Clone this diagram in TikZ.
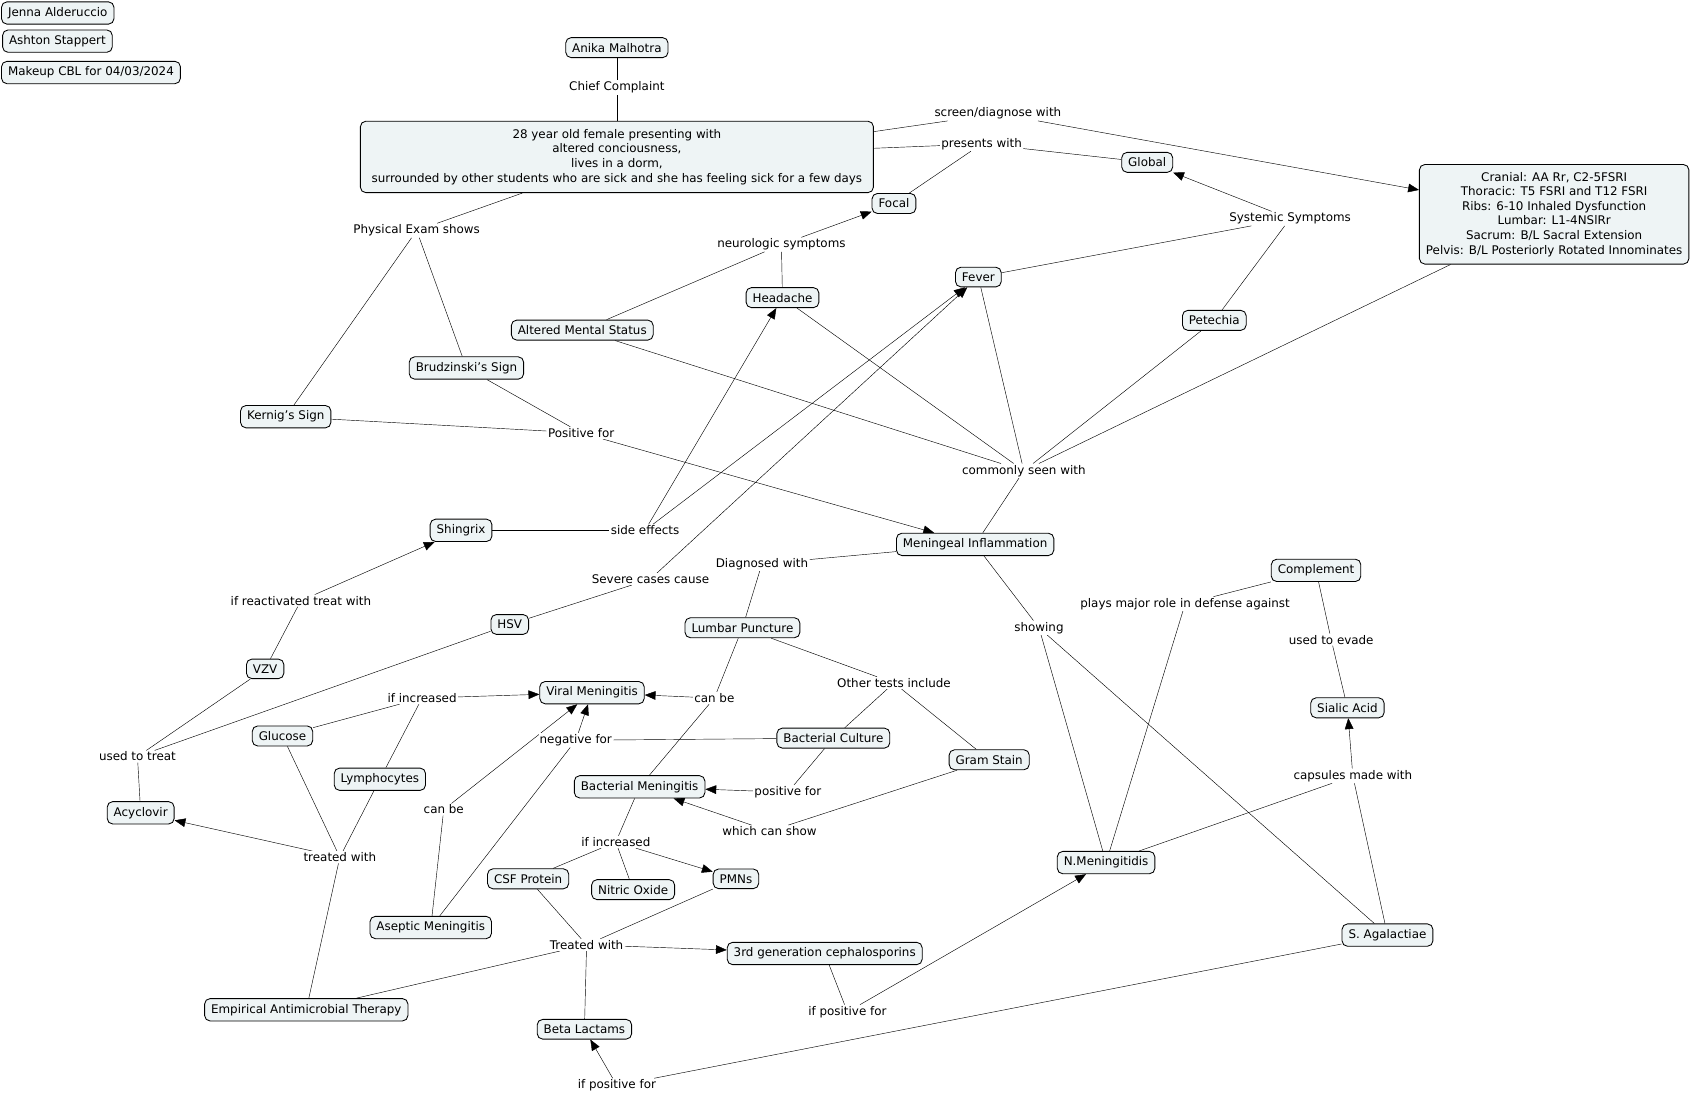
\documentclass[tikz,border=0pt]{standalone}
\usepackage{fontspec}
\setmainfont{DejaVu Sans}
\usetikzlibrary{arrows.meta}
\pgfdeclarelayer{bg}\pgfsetlayers{bg,main}
\definecolor{cfill}{RGB}{238,244,245}
\begin{document}
\begin{tikzpicture}[x=1pt,y=-1pt,line width=0.8pt,
 c/.style={draw,rounded corners=5pt,fill=cfill,font=\fontsize{11}{13.5}\selectfont,inner xsep=6pt,inner ysep=5pt,align=center},
 l/.style={fill=white,font=\fontsize{11}{13.5}\selectfont,inner sep=1pt},
 a/.style={-{Triangle[length=10pt,width=8pt]}}]
\useasboundingbox (0,0) rectangle (1568,1013);
\node[c,anchor=west] (jenna) at (1,12) {Jenna Alderuccio};
\node[c,anchor=west] (ashton) at (2,38) {Ashton Stappert};
\node[c,anchor=west] (makeup) at (1,67) {Makeup CBL for 04/03/2024};
\node[c] (anika) at (570,44) {Anika Malhotra};
\node[l] (cc) at (570,81) {Chief Complaint};
\node[c,minimum width=474pt,minimum height=66pt] (main) at (570,145) {28 year old female presenting with\\altered conciousness,\\lives in a dorm,\\surrounded by other students who are sick and she has feeling sick for a few days};
\node[l] (screen) at (922,105) {screen/diagnose with};
\node[l] (presents) at (907,133) {presents with};
\node[c] (global) at (1060,150) {Global};
\node[c] (focal) at (826,188) {Focal};
\node[c,minimum width=228pt,minimum height=92pt] (cranial) at (1436,198) {Cranial: AA Rr, C2-5FSRI\\Thoracic: T5 FSRI and T12 FSRI\\Ribs: 6-10 Inhaled Dysfunction\\Lumbar: L1-4NSlRr\\Sacrum: B/L Sacral Extension\\Pelvis: B/L Posteriorly Rotated Innominates};
\node[l] (pe) at (385,213) {Physical Exam shows};
\node[l] (neuro) at (722,226) {neurologic symptoms};
\node[l] (systemic) at (1192,202) {Systemic Symptoms};
\node[c] (fever) at (904,256) {Fever};
\node[c] (headache) at (723,275) {Headache};
\node[c] (ams) at (538,305) {Altered Mental Status};
\node[c] (petechia) at (1122,296) {Petechia};
\node[c] (brudz) at (431,340) {Brudzinski's Sign};
\node[c] (kernig) at (264,385) {Kernig's Sign};
\node[l] (posfor) at (537,400) {Positive for};
\node[l] (csw) at (946,435) {commonly seen with};
\node[c] (shingrix) at (426,490) {Shingrix};
\node[l] (side) at (596,490) {side effects};
\node[c] (mening) at (901,503) {Meningeal Inflammation};
\node[l] (diag) at (704,521) {Diagnosed with};
\node[l] (severe) at (601,535) {Severe cases cause};
\node[c] (complement) at (1216,527) {Complement};
\node[l] (ifreact) at (278,555) {if reactivated treat with};
\node[l] (plays) at (1095,558) {plays major role in defense against};
\node[c] (hsv) at (471,577) {HSV};
\node[c] (lp) at (686,580) {Lumbar Puncture};
\node[l] (showing) at (960,580) {showing};
\node[l] (evade) at (1230,591) {used to evade};
\node[c] (vzv) at (245,618) {VZV};
\node[l] (other) at (826,631) {Other tests include};
\node[l] (ifinc1) at (390,645) {if increased};
\node[c] (viral) at (547,640) {Viral Meningitis};
\node[l] (canbe1) at (660,645) {can be};
\node[c] (sialic) at (1245,654) {Sialic Acid};
\node[c] (glucose) at (261,680) {Glucose};
\node[c] (culture) at (770,682) {Bacterial Culture};
\node[l] (negfor) at (532,684) {negative for};
\node[l] (usedtt) at (127,699) {used to treat};
\node[c] (gram) at (914,702) {Gram Stain};
\node[c] (lymph) at (351,720) {Lymphocytes};
\node[l] (caps) at (1250,717) {capsules made with};
\node[c] (bact) at (591,727) {Bacterial Meningitis};
\node[l] (posfor2) at (728,732) {positive for};
\node[l] (canbe2) at (410,748) {can be};
\node[c] (acyc) at (130,751) {Acyclovir};
\node[l] (which) at (711,768) {which can show};
\node[l] (ifinc2) at (569,778) {if increased};
\node[l] (treated) at (314,792) {treated with};
\node[c] (nmen) at (1022,797) {N.Meningitidis};
\node[c] (csf) at (488,812) {CSF Protein};
\node[c] (pmns) at (680,812) {PMNs};
\node[c] (nitric) at (585,822) {Nitric Oxide};
\node[c] (aseptic) at (398,857) {Aseptic Meningitis};
\node[c] (sagal) at (1282,864) {S. Agalactiae};
\node[l] (tw2) at (542,873) {Treated with};
\node[c] (ceph) at (762,881) {3rd generation cephalosporins};
\node[c] (emp) at (283,933) {Empirical Antimicrobial Therapy};
\node[l] (ifpos1) at (783,935) {if positive for};
\node[c] (beta) at (540,951) {Beta Lactams};
\node[l] (ifpos2) at (570,1003) {if positive for};
\begin{pgfonlayer}{bg}
\draw (anika)--(cc)--(main);
\draw (main.north east)++(0,10) -- (screen);
\draw[a] (screen)--(cranial);
\draw (main.east|-presents) ++(0,4) -- (presents) -- (global);
\draw (presents)--(focal);
\draw (main.south west)++(150,0) -- (pe);
\draw (pe)--(kernig); \draw (pe)--(brudz);
\draw (ams)--(neuro); \draw (headache)--(neuro); \draw[a] (neuro)--(focal);
\draw (fever)--(systemic); \draw (petechia)--(systemic); \draw[a] (systemic)--(global);
\draw (kernig)--(posfor); \draw (brudz)--(posfor); \draw[a] (posfor)--(mening);
\draw (ams)--(csw); \draw (headache)--(csw); \draw (fever)--(csw); \draw (petechia)--(csw); \draw (cranial)--(csw); \draw (csw)--(mening);
\draw (shingrix)--(side); \draw[a] (side)--(headache); \draw[a] (side)--(fever);
\draw (hsv)--(severe); \draw[a] (severe)--(fever);
\draw (mening)--(diag)--(lp);
\draw (mening)--(showing); \draw (showing)--(nmen); \draw (showing)--(sagal);
\draw (complement)--(plays)--(nmen);
\draw (complement)--(evade)--(sialic);
\draw (vzv)--(ifreact); \draw[a] (ifreact)--(shingrix);
\draw (vzv)--(usedtt); \draw (hsv)--(usedtt); \draw (usedtt)--(acyc);
\draw (lp)--(canbe1); \draw[a] (canbe1)--(viral); \draw (canbe1)--(bact);
\draw (lp)--(other); \draw (other)--(culture); \draw (other)--(gram);
\draw (glucose)--(ifinc1); \draw (lymph)--(ifinc1); \draw[a] (ifinc1)--(viral);
\draw (culture)--(negfor); \draw[a] (negfor)--(viral); \draw (aseptic)--(negfor);
\draw (culture)--(posfor2); \draw[a] (posfor2)--(bact);
\draw (gram)--(which); \draw[a] (which)--(bact);
\draw (aseptic)--(canbe2); \draw[a] (canbe2)--(viral);
\draw (bact)--(ifinc2); \draw (ifinc2)--(csf); \draw (ifinc2)--(nitric); \draw[a] (ifinc2)--(pmns);
\draw (glucose)--(treated); \draw (lymph)--(treated); \draw[a] (treated)--(acyc); \draw (treated)--(emp);
\draw (csf)--(tw2); \draw (pmns)--(tw2); \draw (tw2)--(beta); \draw[a] (tw2)--(ceph); \draw (emp)--(tw2);
\draw (ceph)--(ifpos1); \draw[a] (ifpos1)--(nmen);
\draw (sagal)--(ifpos2); \draw[a] (ifpos2)--(beta);
\draw (nmen)--(caps); \draw (sagal)--(caps); \draw[a] (caps)--(sialic);
\end{pgfonlayer}
\end{tikzpicture}
\end{document}
